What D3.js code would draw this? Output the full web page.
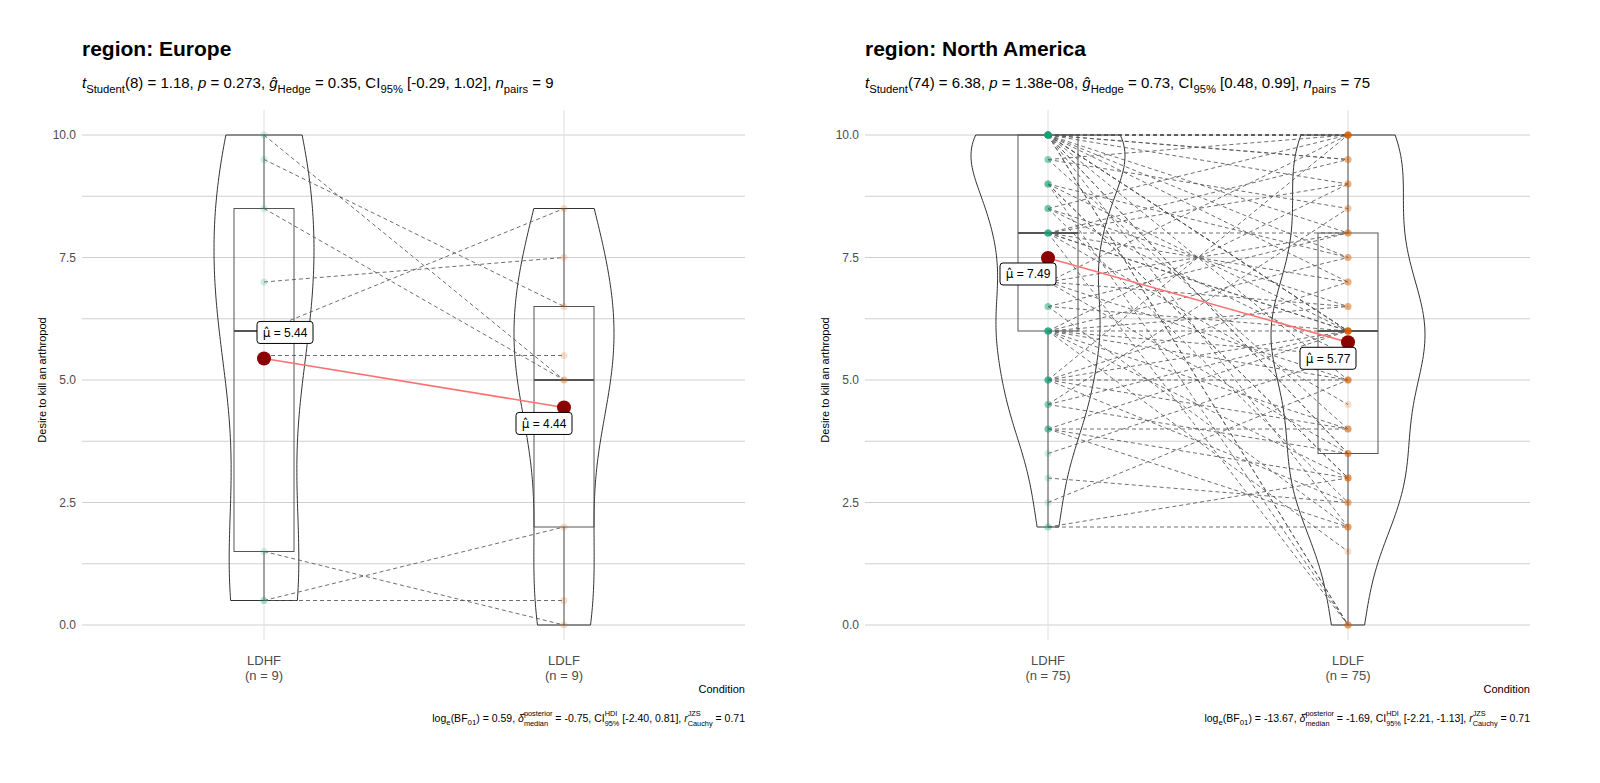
<!DOCTYPE html>
<html><head><meta charset="utf-8">
<script src="https://cdn.jsdelivr.net/npm/d3@7"></script>
<style>html,body{margin:0;overflow:hidden;background:#fff;font-family:"Liberation Sans",Arial,sans-serif}svg{display:block}</style>
</head><body><svg width="1600" height="783"></svg>
<script>
const conditions = ["LDHF", "LDLF"];
const yTicks = [0, 2.5, 5, 7.5, 10];

// Europe pairs (LDHF[i] paired with LDLF[i])
const euLDHF = [10, 9.5, 8.5, 7, 6, 5.5, 1.5, 0.5, 0.5];
const euLDLF = [5, 6.5, 5, 7.5, 8.5, 5.5, 0, 2, 0.5];

// North America pairs
const naLDHF = [10,10,10,10,10,10,10,10,10,10,10,10,10,10,10,10,10,10,10,10,
  9.5,9.5,9.5, 9,9,9,9,9, 8.5,8.5,8.5,8.5, 8,8,8,8,8,8,8,8,
  7,7,7,7,7, 6.5,6.5,6.5, 6,6,6,6,6,6,6,6,6, 5,5,5,5,5,5, 4.5,4.5,4.5, 4,4,4,4, 3.5, 3, 2.5, 2,2];
const naLDLF = [10,10,9.5,7,6,0,10,9,8,6,3.5,10,2,10,7.5,5,9.5,0,3.5,6,
  10,8.5,4, 0,6,3,3,7.5, 10,6.5,5.5,2.5, 9,8,6,4.5,7,0,9.5,6,
  6.5,8,5,3.5,10, 8,2,6, 7.5,5,6,3,9,4,1.5,6.5,5.5, 10,7,6,2.5,4,5, 3.5,8.5,6, 2,4,6,3, 5.5, 2.5, 5, 3,2];

const panels = [
  {title: "region: Europe", hf: euLDHF, lf: euLDLF, x0: 82, x1: 745, xs: [264, 564], vw: 50,
   sub: [["t","i"],["Student","sub"],["(8) = 1.18, "],["p","i"],[" = 0.273, "],["ĝ","i"],["Hedge","sub"],[" = 0.35, CI"],["95%","sub"],[" [-0.29, 1.02], "],["n","i"],["pairs","sub"],[" = 9"]],
   cap: [["log"],["e","sub"],["(BF"],["01","sub"],[") = 0.59, "],["δ̂","i"],["median","sub2"],["posterior","sup"],[" = -0.75, CI"],["95%","sub2"],["HDI","sup"],[" [-2.40, 0.81], "],["r","i"],["Cauchy","sub2"],["JZS","sup"],[" = 0.71"]],
   means: ["5.44", "4.44"], nlab: 9},
  {title: "region: North America", hf: naLDHF, lf: naLDLF, x0: 865, x1: 1530, xs: [1048, 1348], vw: 77,
   sub: [["t","i"],["Student","sub"],["(74) = 6.38, "],["p","i"],[" = 1.38e-08, "],["ĝ","i"],["Hedge","sub"],[" = 0.73, CI"],["95%","sub"],[" [0.48, 0.99], "],["n","i"],["pairs","sub"],[" = 75"]],
   cap: [["log"],["e","sub"],["(BF"],["01","sub"],[") = -13.67, "],["δ̂","i"],["median","sub2"],["posterior","sup"],[" = -1.69, CI"],["95%","sub2"],["HDI","sup"],[" [-2.21, -1.13], "],["r","i"],["Cauchy","sub2"],["JZS","sup"],[" = 0.71"]],
   means: ["7.49", "5.77"], nlab: 75}
];
const meanVals = [[5.44, 4.44], [7.49, 5.77]];
const colors = ["#1b9e77", "#d95f02"];

const svg = d3.select("svg");
const y = d3.scaleLinear().domain([0, 10]).range([625, 135]);

function richText(g, parts, x, yy, size, anchor) {
  const t = g.append("text").attr("x", x).attr("y", yy).attr("font-size", size).attr("text-anchor", anchor).attr("fill", "#000");
  let prev = 0, extra = 0;
  parts.forEach(([s, k], i) => {
    const sp = t.append("tspan").text(s);
    let dy = 0, fs = size;
    if (k === "sub") { dy = size * 0.3; fs = size * 0.75; }
    if (k === "sub2") { dy = size * 0.35; fs = size * 0.7; }
    if (k === "sup") { dy = -size * 0.6; fs = size * 0.7; }
    if (k === "i") sp.attr("font-style", "italic");
    sp.attr("dy", dy - prev).attr("font-size", fs);
    if (extra) { sp.attr("dx", extra); extra = 0; }
    if (k === "sup" && parts[i-1] && parts[i-1][1] === "sub2") {
      const subNode = t.selectAll("tspan").nodes()[i-1];
      const wSub = subNode.getComputedTextLength(), wSup = sp.node().getComputedTextLength();
      sp.attr("dx", -wSub);
      if (wSub > wSup) extra = wSub - wSup;
    }
    prev = dy;
  });
}

function kde(vals, n) {
  const s = vals.slice().sort(d3.ascending);
  const sd = d3.deviation(vals), iqr = d3.quantile(s, .75) - d3.quantile(s, .25);
  const bw = 0.9 * Math.min(sd, iqr / 1.34 || sd) * Math.pow(vals.length, -0.2);
  const [lo, hi] = d3.extent(vals);
  return d3.range(n + 1).map(i => {
    const v = lo + (hi - lo) * i / n;
    return [v, d3.mean(vals, d => Math.exp(-0.5 * ((v - d) / bw) ** 2))];
  });
}

panels.forEach((p, pi) => {
  const g = svg.append("g");
  const x = d3.scaleOrdinal().domain(conditions).range(p.xs);
  d3.range(0, 10.01, 1.25).forEach(v => g.append("line").attr("x1", p.x0).attr("x2", p.x1).attr("y1", y(v)).attr("y2", y(v)).attr("stroke", "#d0d0d0"));
  conditions.forEach(c => g.append("line").attr("x1", x(c)).attr("x2", x(c)).attr("y1", 110).attr("y2", 640).attr("stroke", "#dedede"));
  yTicks.forEach(v => g.append("text").attr("x", p.x0 - 6).attr("y", y(v) + 4).attr("text-anchor", "end").attr("font-size", 12).attr("fill", "#4d4d4d").text(v.toFixed(1)));
  g.append("text").attr("transform", `translate(${p.x0 - 36},${y(5)}) rotate(-90)`).attr("text-anchor", "middle").attr("font-size", 11).text("Desire to kill an arthropod");
  conditions.forEach(c => {
    g.append("text").attr("x", x(c)).attr("y", 665).attr("text-anchor", "middle").attr("font-size", 13).attr("fill", "#4d4d4d").text(c);
    g.append("text").attr("x", x(c)).attr("y", 680).attr("text-anchor", "middle").attr("font-size", 13).attr("fill", "#4d4d4d").text(`(n = ${p.nlab})`);
  });
  g.append("text").attr("x", p.x1).attr("y", 693).attr("text-anchor", "end").attr("font-size", 11).text("Condition");
  g.append("text").attr("x", p.x0).attr("y", 56).attr("font-size", 21).attr("font-weight", "bold").text(p.title);
  richText(g, p.sub, p.x0, 88, 15, "start");
  richText(g, p.cap, p.x1, 722, 10.5, "end");

  const data = [p.hf, p.lf];
  data.forEach((vals, ci) => {
    const d = kde(vals, 120), m = d3.max(d, e => e[1]);
    const w = d3.scaleLinear().domain([0, m]).range([0, p.vw]);
    const cx = p.xs[ci];
    const area = d3.area().y(e => y(e[0])).x0(e => cx - w(e[1])).x1(e => cx + w(e[1]));
    g.append("path").attr("d", area(d) + "Z").attr("fill", "none").attr("stroke", "#333");
  });
  data.forEach((vals, ci) => {
    const s = vals.slice().sort(d3.ascending);
    const q1 = d3.quantile(s, .25), q2 = d3.quantile(s, .5), q3 = d3.quantile(s, .75), iq = q3 - q1;
    const lo = d3.min(s.filter(v => v >= q1 - 1.5 * iq)), hi = d3.max(s.filter(v => v <= q3 + 1.5 * iq));
    const cx = p.xs[ci];
    g.append("line").attr("x1", cx).attr("x2", cx).attr("y1", y(hi)).attr("y2", y(q3)).attr("stroke", "#555");
    g.append("line").attr("x1", cx).attr("x2", cx).attr("y1", y(q1)).attr("y2", y(lo)).attr("stroke", "#555");
    g.append("rect").attr("x", cx - 30).attr("width", 60).attr("y", y(q3)).attr("height", y(q1) - y(q3)).attr("fill", "none").attr("stroke", "#555");
    g.append("line").attr("x1", cx - 30).attr("x2", cx + 30).attr("y1", y(q2)).attr("y2", y(q2)).attr("stroke", "#555").attr("stroke-width", 1.8);
  });
  p.hf.forEach((v, i) => g.append("line").attr("x1", p.xs[0]).attr("y1", y(v)).attr("x2", p.xs[1]).attr("y2", y(p.lf[i]))
    .attr("stroke", "#555").attr("stroke-dasharray", "4,3").attr("stroke-opacity", 0.85));
  data.forEach((vals, ci) => vals.forEach(v => g.append("circle").attr("cx", p.xs[ci]).attr("cy", y(v)).attr("r", 3.5)
    .attr("fill", colors[ci]).attr("fill-opacity", 0.2)));
  const mv = meanVals[pi];
  g.append("line").attr("x1", p.xs[0]).attr("y1", y(mv[0])).attr("x2", p.xs[1]).attr("y2", y(mv[1])).attr("stroke", "#ff7070").attr("stroke-width", 1.5);
  mv.forEach((m, ci) => {
    g.append("circle").attr("cx", p.xs[ci]).attr("cy", y(m)).attr("r", 7).attr("fill", "#8b0000");
    let lx, ly;
    if (pi === 0 && ci === 0) { lx = p.xs[ci] - 7; ly = y(m) - 37; }
    else { lx = p.xs[ci] - 48; ly = y(m) + 5; }
    const lg = g.append("g").attr("transform", `translate(${lx},${ly})`);
    lg.append("rect").attr("width", 56).attr("height", 22).attr("rx", 3).attr("fill", "#fff").attr("stroke", "#000");
    const lt = lg.append("text").attr("x", 28).attr("y", 15.5).attr("text-anchor", "middle").attr("font-size", 12);
    lt.append("tspan").attr("font-family", "DejaVu Sans").text("μ̂");
    lt.append("tspan").text(` = ${p.means[ci]}`);
  });
});
</script></body></html>
